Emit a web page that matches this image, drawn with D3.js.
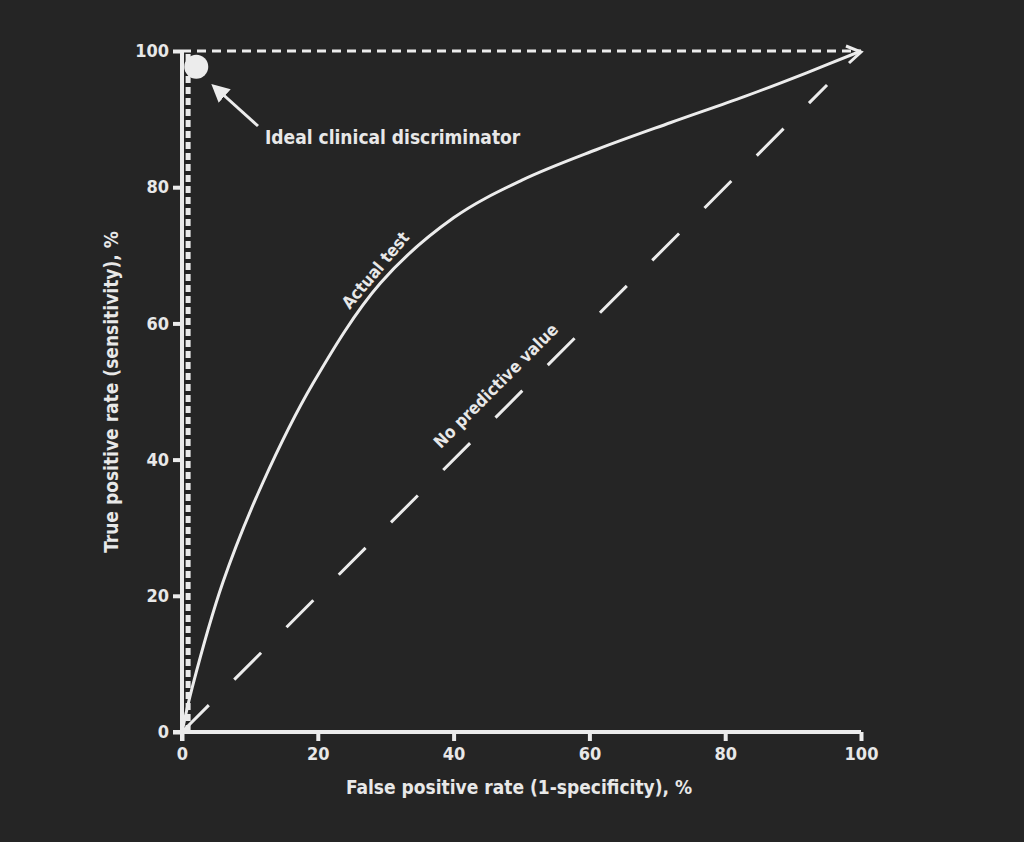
<!DOCTYPE html>
<html><head><meta charset="utf-8">
<script src="https://cdn.jsdelivr.net/npm/d3@7"></script>
<style>
body{margin:0;background:#252525;}
text{font-family:"DejaVu Sans Condensed","DejaVu Sans",sans-serif;font-weight:bold;fill:#e8e8e8;}
</style></head><body>
<svg width="1024" height="842"></svg>
<script>
var curveX = [0, 1.5, 6, 11.9, 19.3, 29.2, 40, 50, 61, 72, 82.8, 92, 100];
var curveY = [0, 6.5, 21.9, 36.6, 51.2, 65.9, 75.5, 81, 85.5, 89.5, 93.3, 96.8, 100];
var chanceX = [0, 95];
var chanceY = [0, 95];
var ticks = [0, 20, 40, 60, 80, 100];
var COL = "#ececec";

var svg = d3.select("svg");
var x = d3.scaleLinear().domain([0, 100]).range([182, 861]);
var y = d3.scaleLinear().domain([0, 100]).range([732, 51]);

// axes
var xa = svg.append("g").attr("transform", "translate(0,732)")
	.call(d3.axisBottom(x).tickValues(ticks).tickSize(9).tickSizeOuter(0).tickPadding(6));
var ya = svg.append("g").attr("transform", "translate(182,0)")
	.call(d3.axisLeft(y).tickValues(ticks).tickSize(9).tickSizeOuter(0).tickPadding(4));
[xa, ya].forEach(function(a) {
	a.select(".domain").attr("stroke", COL).attr("stroke-width", 4);
	a.selectAll(".tick line").attr("stroke", COL).attr("stroke-width", 4);
	a.selectAll(".tick text").style("font-size", "18px").attr("fill", COL);
});
xa.select(".domain").attr("d", "M173,0H861");
ya.select(".domain").attr("d", "M0,741V51");

// ideal discriminator lines
svg.append("line").attr("x1", x(0.9)).attr("x2", x(0.9)).attr("y1", y(0)).attr("y2", y(100))
	.attr("stroke", COL).attr("stroke-width", 5).attr("stroke-dasharray", "7,4");
svg.append("line").attr("x1", x(0)).attr("x2", x(100)).attr("y1", y(100)).attr("y2", y(100))
	.attr("stroke", COL).attr("stroke-width", 3).attr("stroke-dasharray", "9,6");
svg.append("circle").attr("cx", x(2.1)).attr("cy", y(97.7)).attr("r", 12).attr("fill", COL);

// arrow to ideal point
svg.append("defs").append("marker").attr("id", "ah").attr("viewBox", "0 0 10 10")
	.attr("refX", 5).attr("refY", 5).attr("markerWidth", 6).attr("markerHeight", 6).attr("orient", "auto")
	.append("path").attr("d", "M0,0L10,5L0,10z").attr("fill", COL);
svg.append("line").attr("x1", 258).attr("y1", 126).attr("x2", 218).attr("y2", 90)
	.attr("stroke", COL).attr("stroke-width", 3).attr("marker-end", "url(#ah)");
svg.append("text").attr("x", 265).attr("y", 144).style("font-size", "19px").text("Ideal clinical discriminator");

// chance line
svg.append("path").datum(d3.zip(chanceX, chanceY))
	.attr("d", d3.line().x(function(d) { return x(d[0]); }).y(function(d) { return y(d[1]); }))
	.attr("stroke", COL).attr("stroke-width", 3).attr("fill", "none").attr("stroke-dasharray", "38,36");

// ROC curve
var pts = d3.zip(curveX, curveY);
svg.append("path").datum(pts)
	.attr("d", d3.line().curve(d3.curveCatmullRom).x(function(d) { return x(d[0]); }).y(function(d) { return y(d[1]); }))
	.attr("stroke", COL).attr("stroke-width", 3).attr("fill", "none");
// arrowhead at end
svg.append("path").attr("d", "M846,46L861,52L849,63")
	.attr("stroke", COL).attr("stroke-width", 3).attr("fill", "none");

svg.append("text").attr("transform", "translate(380,274) rotate(-50)").attr("text-anchor", "middle")
	.style("font-size", "17px").text("Actual test");
svg.append("text").attr("transform", "translate(500,390) rotate(-45)").attr("text-anchor", "middle")
	.style("font-size", "17px").text("No predictive value");

// axis titles
svg.append("text").attr("x", 519).attr("y", 794).attr("text-anchor", "middle")
	.style("font-size", "19px").text("False positive rate (1-specificity), %");
svg.append("text").attr("transform", "translate(118,392) rotate(-90)").attr("text-anchor", "middle")
	.style("font-size", "19px").text("True positive rate (sensitivity), %");
</script>
</body></html>
